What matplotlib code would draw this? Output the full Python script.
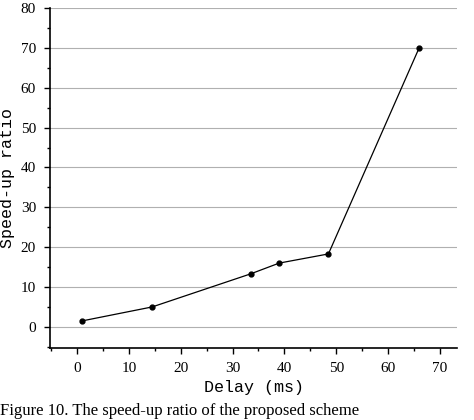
import matplotlib.pyplot as plt
from matplotlib.ticker import MultipleLocator

delay = [1, 14.5, 33.5, 39, 48.5, 66]
speedup = [1.5, 5, 13.3, 16, 18.3, 70]

fig = plt.figure(figsize=(4.74, 4.2), dpi=100)
ax = fig.add_axes([50/474, 72/420, 407/474, 340/420])
ax.plot(delay, speedup, color='black', lw=0.9, marker='o', ms=3.5)
ax.set_xlim(-5.2, 73.3)
ax.set_ylim(-5.3, 80)
ax.xaxis.set_major_locator(MultipleLocator(10))
ax.xaxis.set_minor_locator(MultipleLocator(5))
ax.yaxis.set_major_locator(MultipleLocator(10))
ax.yaxis.set_minor_locator(MultipleLocator(5))
ax.grid(axis='y', which='major', color='#b0b0b0', lw=0.8)
ax.set_axisbelow(True)
for s in ['top', 'right']:
    ax.spines[s].set_visible(False)
ax.spines['left'].set_linewidth(1.2)
ax.spines['bottom'].set_linewidth(1.2)
ax.tick_params(which='major', direction='out', length=4, width=1, labelsize=11, pad=6)
ax.tick_params(which='minor', direction='out', length=2.5, width=1)
for lab in ax.get_xticklabels() + ax.get_yticklabels():
    lab.set_family('Liberation Serif')
ax.set_xlabel('Delay (ms)', family='Liberation Mono', fontsize=12, labelpad=4)
ax.set_ylabel('Speed-up ratio', family='Liberation Mono', fontsize=12, labelpad=4)
fig.text(0.0, 0.003, 'Figure 10. The speed-up ratio of the proposed scheme',
         family='Liberation Serif', fontsize=12, va='bottom')
fig.savefig('out.png', dpi=100)
